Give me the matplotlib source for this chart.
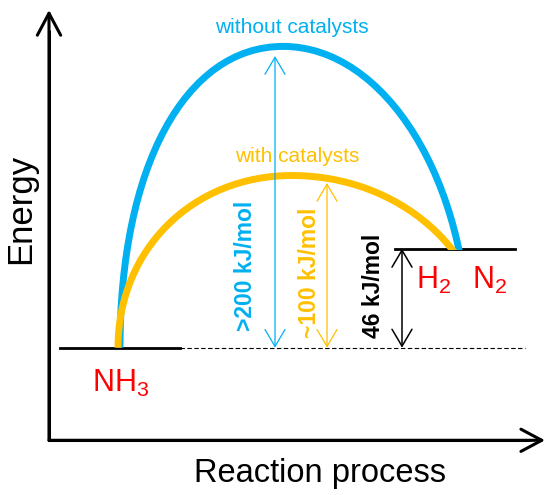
import matplotlib
matplotlib.use('Agg')
import matplotlib.pyplot as plt
from matplotlib.path import Path
from matplotlib.patches import PathPatch, Polygon

plt.rcParams['font.family'] = ['Liberation Sans', 'DejaVu Sans']
plt.rcParams['mathtext.fontset'] = 'custom'
plt.rcParams['mathtext.rm'] = 'Liberation Sans'
plt.rcParams['mathtext.it'] = 'Liberation Sans:italic'
plt.rcParams['mathtext.bf'] = 'Liberation Sans:bold'

# ---------------- data (schematic energy diagram) ----------------
# energy levels (drawing units ~ kJ/mol, schematic)
level_energy = [0, 46]                     # NH3, H2 + N2
level_species = ['NH$_3$', 'H$_2$', 'N$_2$']
path_names = ['without catalysts', 'with catalysts']
ts_energy = [140, 80]                      # drawn transition-state heights
barrier_labels = ['>200 kJ/mol', '~100 kJ/mol']
reaction_label = '46 kJ/mol'
# reaction coordinate of each path: start, transition state, right half-width
path_start = [120, 118]
path_ts = [283, 292]
path_right_halfwidth = [186, 195]
arrow_top = [135.5, 76.5, 46]              # tops of the double arrows
arrow_pos = [275, 327, 402]
axis_labels = ['Reaction process', 'Energy']

# ---------------- styling ----------------
BLUE = '#00B0F0'
GOLD = '#FFC000'
RED = '#FF0000'
path_colors = [BLUE, GOLD]
path_k = [0.60, 0.57]

W, H = 550, 495
S = 99 / 46.0          # pixels per energy unit
P0 = 347.7             # pixel row of the zero level


def Y(p):
    """pixel row -> energy coordinate (layout helper)"""
    return (P0 - p) / S


fig = plt.figure(figsize=(5.5, 4.95), dpi=100)
ax = fig.add_axes([0, 0, 1, 1])
ax.set_xlim(0, W)
ax.set_ylim(Y(H), Y(0))
ax.axis('off')

# axes arrows
ax.plot([49, 49, 530], [Y(30), Y(440.3), Y(440.3)], color='black', lw=2.2,
        solid_joinstyle='miter', solid_capstyle='butt', zorder=3)
ax.annotate('', xy=(49, Y(10)), xytext=(49, Y(440.3)),
            arrowprops=dict(arrowstyle='->,head_length=0.79,head_width=0.42',
                            mutation_scale=20, lw=2.2, color='black',
                            shrinkA=0, shrinkB=0))
ax.annotate('', xy=(545, Y(440.3)), xytext=(49, Y(440.3)),
            arrowprops=dict(arrowstyle='->,head_length=0.75,head_width=0.40',
                            mutation_scale=20, lw=2.2, color='black',
                            shrinkA=0, shrinkB=0))

# energy levels
ax.plot([60, 180], [level_energy[0]] * 2, color='black', lw=2.0, zorder=2)
ax.plot([180, 525], [level_energy[0]] * 2, color='black', lw=0.8,
        ls=(0, (4, 2.2)), zorder=2)
ax.plot([395, 515], [level_energy[1]] * 2, color='black', lw=2.0, zorder=2)

# reaction paths (cubic Bezier quarter arcs)
for i in range(2):
    xs, xp, ar, Ep, k = (path_start[i], path_ts[i], path_right_halfwidth[i],
                         ts_energy[i], path_k[i])
    E0 = level_energy[0]
    verts = [(xs, E0),
             (xs, E0 + k * (Ep - E0)), (xp - k * (xp - xs), Ep), (xp, Ep),
             (xp + 0.552 * ar, Ep), (xp + ar, E0 + 0.552 * (Ep - E0)), (xp + ar, E0)]
    codes = [Path.MOVETO] + [Path.CURVE4] * 6
    patch = PathPatch(Path(verts, codes), fill=False, edgecolor=path_colors[i],
                      lw=5.0, capstyle='butt', zorder=4 + i)
    ax.add_patch(patch)
    clip = Polygon([(0, Y(360)), (xp, Y(360)), (xp, level_energy[1] - 0.6),
                    (W, level_energy[1] - 0.6), (W, Y(0)), (0, Y(0))],
                   closed=True, transform=ax.transData)
    patch.set_clip_path(clip)

# double arrows
arrow_colors = [BLUE, GOLD, 'black']
arrow_lw = [0.9, 0.9, 1.1]
for x, top, c, lw in zip(arrow_pos, arrow_top, arrow_colors, arrow_lw):
    ax.annotate('', xy=(x, top), xytext=(x, level_energy[0]),
                arrowprops=dict(arrowstyle='<->,head_length=0.61,head_width=0.36',
                                mutation_scale=20, lw=lw, color=c,
                                shrinkA=0, shrinkB=0), zorder=6)

# path labels
ax.text(292, Y(33.5), path_names[0], color=BLUE, fontsize=15,
        ha='center', va='baseline')
ax.text(297, Y(162), path_names[1], color=GOLD, fontsize=15,
        ha='center', va='baseline')

# barrier labels
ax.text(246, Y(266), barrier_labels[0], color=BLUE, fontsize=16.5,
        fontweight='bold', rotation=90, ha='center', va='center')
ax.text(309, Y(273), barrier_labels[1], color=GOLD, fontsize=16.5,
        fontweight='bold', rotation=90, ha='center', va='center')
ax.text(374, Y(286), reaction_label, color='black', fontsize=16.5,
        fontweight='bold', rotation=90, ha='center', va='center')

# species
ax.text(92, Y(392), level_species[0], color=RED, fontsize=22,
        ha='left', va='baseline')
ax.text(416, Y(289), level_species[1], color=RED, fontsize=22,
        ha='left', va='baseline')
ax.text(472, Y(289), level_species[2], color=RED, fontsize=22,
        ha='left', va='baseline')

# axis titles
ax.text(320, Y(482), axis_labels[0], color='black', fontsize=23.5,
        ha='center', va='baseline')
ax.text(21, Y(209), axis_labels[1], color='black', fontsize=25,
        rotation=90, ha='center', va='center')

fig.savefig('out.png', dpi=100, facecolor='white')
